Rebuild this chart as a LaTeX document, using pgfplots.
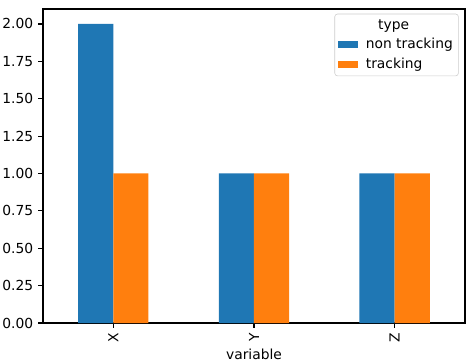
\documentclass[border=0pt]{standalone}
\usepackage{pgfplots}
\pgfplotsset{compat=1.18}
\usepackage{fontspec}
\setmainfont{DejaVu Sans}
\definecolor{tabblue}{HTML}{1F77B4}
\definecolor{taborange}{HTML}{FF7F0E}
\begin{document}
\begin{tikzpicture}
\path[use as bounding box] (-30.96bp,-29.52bp) rectangle (310.32bp,232.56bp);
\begin{axis}[
  at={(0,0)}, anchor=south west,
  scale only axis, width=303.84bp, height=226.08bp,
  xmin=-0.5, xmax=2.5, ymin=0, ymax=2.1,
  axis line style={line width=0.8bp},
  xtick={0,1,2}, xticklabels={X,Y,Z},
  xticklabel style={rotate=90, anchor=east, font=\fontsize{10}{12}\selectfont},
  ytick={0,0.25,...,2.0},
  yticklabel style={/pgf/number format/.cd, fixed, fixed zerofill, precision=2, assume math mode=true},
  ticklabel style={font=\fontsize{10}{12}\selectfont},
  tick align=outside, major tick length=3.5bp,
  tick style={line width=0.8bp, black},
  xtick pos=bottom, ytick pos=left,
  xlabel={variable}, xlabel style={font=\fontsize{10}{12}\selectfont, yshift=2pt},
  legend cell align=left,
  legend style={at={(0.985,0.985)}, anchor=north east, font=\fontsize{10}{12}\selectfont,
    draw=black!20, rounded corners=2pt, fill=white, inner sep=2pt, row sep=1pt,
    /tikz/every odd column/.append style={column sep=4bp}},
  legend image code/.code={\fill[#1,sharp corners] (0bp,-2.5bp) rectangle (14.4bp,2.5bp);},
]
\addlegendimage{empty legend}
\addlegendentry{\hspace*{-10pt}\makebox[60bp][c]{type}}
\addplot[ybar, bar width=0.25, bar shift=-0.125, fill=tabblue, draw=none] coordinates {(0,2) (1,1) (2,1)};
\addlegendentry{non tracking}
\addplot[ybar, bar width=0.25, bar shift=0.125, fill=taborange, draw=none] coordinates {(0,1) (1,1) (2,1)};
\addlegendentry{tracking}
\end{axis}
\end{tikzpicture}
\end{document}
